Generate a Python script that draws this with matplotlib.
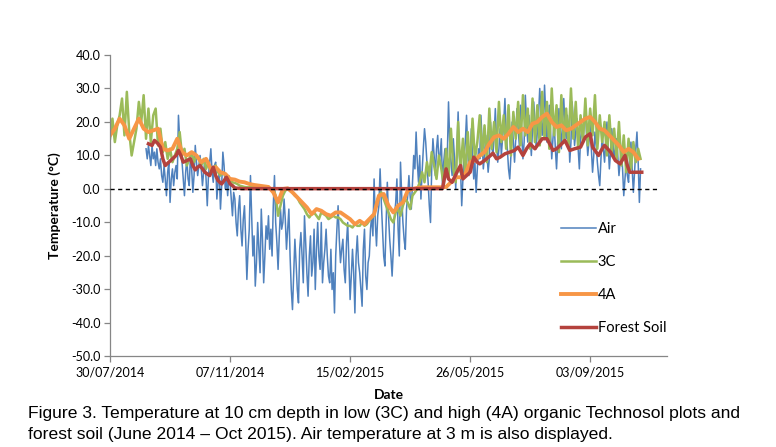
import numpy as np
import matplotlib.pyplot as plt
import matplotlib.dates as mdates

plt.rcParams['font.family'] = ['Lato', 'DejaVu Sans']

# day 0 = 30/07/2014
start = np.datetime64('2014-07-30')

# air temperature at 3 m, daily from day 30
air_first, air_step = 30, 1
air = [12, 9, 13, 10, 7, 13, 9, 11, 7, 12,          # d30
       8, 6, 9, 4, 2, 7, 3, -2, 5, 8,
       -4, 3, 6, 1, 5, 7, 3, 22, 15, 12,
       8, 3, -2, 5, 9, 3, 1, 10, 6, -1,
       4, 13, 8, 4, 7, 10, 6, 1, 5, 9,
       3, -5, 4, 8, 12, 5, 2, 7, 8, -3,             # d80
       2, 5, -6, 1, 11, 7, 0, 3, -2, 4,
       2, -3, -8, -1, -3, -10, -14, -6, -2, -12,
       -17, -9, -5, -15, -27, -18, -12, 4, -8, -20,
       -14, -29, -22, -10, -18, -25, -6, -15, -28, -20,
       -11, -15, -8, -18, -12, -20, -5, 4, -10, -16,   # d130
       -24, -14, -6, -12, -10, -3, -9, -18, -12, -6,
       -20, -30, -36, -25, -15, -22, -30, -34, -18, -13,
       -20, -28, -8, -16, -25, -32, -20, -14, -26, -22,
       -12, -30, -18, -10, -20, -24, -10, -28, -22, -18,
       -12, -20, -26, -28, -18, -30, -25, -37, -20, -12,  # d180
       -5, -15, -22, -18, -15, -24, -28, -16, -10, -22,
       -33, -26, -18, -25, -37, -20, -14, -22, -25, -30,
       -35, -18, -12, -26, -30, -22, -20, -12, -8, -14,
       3, -10, -17, -8, -5, 6, -4, -12, -20, -23,
       -10, 2, -8, -15, -20, -26, -18, -8, -4, 3,        # d230
       -12, -20, 8, -2, -10, -15, -18, -6, -2, 4,
       -2, -6, 2, 10, 6, 17, 8, 2, 10, -3,
       5, 12, 18, 14, 8, 2, -5, -10, 6, 15,
       10, 4, 12, 16, 8, 10, 15, 1, 8, 12,
       5, 10, 26, 14, 8, 4, 15, 9, 0, 12,                # d280
       23, 10, 6, -5, 3, 10, 14, 22, 12, 4,
       9, 18, 10, 3, 8, -1, 6, 12, 9, 22,
       14, 6, 10, 16, 11, 5, 9, 20, 13, 10,
       16, 24, 14, 8, 12, 18, 10, 15, 20, 27,
       17, 12, 6, 3, 10, 20, 14, 8, 15, 24,              # d330
       18, 13, 25, 16, 9, 14, 28, 20, 14, 22,
       16, 10, 18, 26, 20, 12, 17, 22, 30, 24,
       16, 20, 31, 22, 14, 19, 25, 17, 9, 15,
       20, 12, 6, 14, 24, 18, 12, 20, 27, 19,
       15, 22, 18, 8, 14, 26, 20, 13, 17, 21,            # d380
       12, 6, 15, 18, 14, 20, 25, 16, 10, 14,
       20, 12, 5, 10, 17, 13, 8, 4, 1, 9,
       16, 12, 8, 14, 20, 13, 6, 11, 18, 14,
       9, 12, 15, 10, 4, 8, 12, 6, -2, 3,
       8, 4, 2, 10, 14, 6, -1, 5, 12, 17,                # d430
       8, -4, 6]

# 3C plot, every 2 days from day 0
c3_first, c3_step = 0, 2
c3 = [15, 21, 14, 19, 22, 27, 16, 29, 17, 10,
      14, 18, 26, 20, 28, 15, 24, 14, 22, 24,
      13, 18, 11, 14, 9, 12, 8, 10, 12, 17,
      10, 12, 7, 9, 11, 8, 10, 9, 7, 9,
      6, 8, 5, 6, 7, 5, 4, 5, 4, 3.5,
      2.5, 2, 1.8, 1.5, 1, 0.8, 0.6, 0.5, 0.5, 0.8,
      0.6, 0.4, 0.3, 0.3, 0.2, 0.2, 0.2, 0.1, 0, -2,
      -8, -5, -2, -0.5, 0, 0, -1, -2, -2.5, -4,
      -5, -6, -7.5, -8.5, -7.5, -7, -8, -9, -7, -7.5,
      -8, -9, -8.5, -8, -8.5, -8.5, -9, -10, -10.5, -11,
      -11, -11.5, -10.5, -11, -11, -10, -11, -10.5, -9.5, -8.5,
      -8, -4, -2, -1, -3, -5, -7, -9, -10, -7,
      -6, -8, -5, -3, -4, -6, -2, -1, 0, 2,
      5, 2, 8, 4, 11, 7, 3, 10, 6, 1,
      12, 3, 18, 6, 2, 20, 5, 15, 4, 17,
      6, 21, 9, 14, 22, 10, 19, 8, 24, 12,
      20, 11, 26, 14, 22, 12, 25, 10, 23, 15,
      26, 13, 28, 16, 24, 12, 27, 14, 25, 13,
      29, 15, 26, 12, 30, 16, 25, 11, 28, 14,
      24, 13, 30, 15, 26, 12, 22, 14, 27, 13,
      24, 16, 28, 12, 22, 14, 20, 10, 22, 11,
      18, 9, 20, 7, 16, 5, 15, 6, 14, 8,
      12, 9]

# 4A plot, every 4 days from day 0
a4_first, a4_step = 0, 4
a4 = [16, 18, 21, 19, 15, 18, 21, 18, 17, 17.5, 18,
      12, 11.5, 12, 15, 11, 10, 11, 10, 8, 9, 6,
      6.5, 5, 4.5, 3, 2.8, 2.2, 2, 1.5, 1.2, 1, 0.8,
      0.6, -1, -4, 0, 0.2, -1, -2.5, -4, -5.5, -7.5, -6,
      -6.5, -7.5, -8, -7, -7, -8, -9, -10.5, -9.5, -10.5, -9,
      -7.5, -2, -1.5, -5, -7, -5, -4, -0.5, 0, 0.3, 0.5,
      0.5, 0.5, 0.5, 0.5, 0.6, 2, 3.5, 3.5, 4.5, 8, 8.5,
      10, 11, 13.5, 15.5, 16, 15, 16.5, 18.5, 17, 18, 17,
      19.5, 20, 21.5, 22.5, 20, 18.5, 19, 17.5, 18, 19, 20,
      21, 21.5, 20, 18, 17.5, 16, 14.5, 13, 11, 12, 11,
      9]

# forest soil (irregular days)
forest_days = [32, 35, 37, 40, 42, 44, 46, 49, 52, 55, 57, 59, 61, 64, 67, 69,
               71, 73, 75, 77, 79, 81, 83, 86, 88, 90, 93, 95, 97, 100, 102,
               104, 110, 277, 280, 282, 285, 289, 292, 294, 297, 300, 303,
               306, 308, 312, 317, 319, 322, 325, 329, 333, 337, 340, 344,
               347, 350, 354, 357, 360, 364, 367, 369, 372, 375, 379, 383,
               387, 392, 396, 400, 402, 405, 407, 410, 412, 417, 421, 425,
               429, 431, 433, 443]
forest = [13.5, 13, 14.5, 13.5, 12.5, 9, 7, 8, 9, 10, 11.5, 10, 8, 8.5, 9, 7,
          5.7, 6.5, 7, 6, 5, 4.5, 4, 6.5, 4, 2.5, 1.5, 2.5, 3.5, 1.5, 1,
          0.3, 0.1, 0.1, 6, 3, 2, 5, 7, 3, 4, 5, 9.5,
          8, 7.5, 8.5, 10, 10.7, 9, 9.5, 10.5, 11, 11.5, 12.5, 10,
          12, 13.5, 12, 13.5, 15, 15, 13, 11.5, 12, 13, 14.5, 11.5,
          12, 12.5, 15.5, 16.5, 12.5, 11, 10, 12, 13, 11, 8.5, 7.5,
          10, 7, 5, 5]


def dates_from(first, step, n):
    return start + np.arange(first, first + step * n, step).astype('timedelta64[D]')


def dates_list(days):
    return start + np.array(days).astype('timedelta64[D]')


fig = plt.figure(figsize=(7.76, 4.47), dpi=100)
ax = fig.add_axes([0.1418, 0.2025, 0.7177, 0.6745])

ax.plot(dates_from(air_first, air_step, len(air)), air, color='#4F81BD', lw=1.1, label='Air')
ax.plot(dates_from(c3_first, c3_step, len(c3)), c3, color='#9BBB59', lw=1.8, label='3C')
ax.plot(dates_from(a4_first, a4_step, len(a4)), a4, color='#F79646', lw=2.8, label='4A')
ax.plot(dates_list(forest_days), forest, color='#B4423D', lw=2.5, label='Forest Soil')
ax.axhline(0, xmin=0, xmax=0.985, color='black', lw=1, ls=(0, (3, 2.5)), zorder=5)

ax.set_xlim(start, start + np.timedelta64(464, 'D'))
ax.set_ylim(-50, 40)
ax.set_yticks(np.arange(-50, 41, 10))
ax.yaxis.set_major_formatter(plt.FormatStrFormatter('%.1f'))
ax.set_xticks(start + np.arange(0, 401, 100).astype('timedelta64[D]'))
ax.xaxis.set_major_formatter(mdates.DateFormatter('%d/%m/%Y'))

for s in ['top', 'right']:
    ax.spines[s].set_visible(False)
for s in ['left', 'bottom']:
    ax.spines[s].set_color('#868686')
    ax.spines[s].set_linewidth(0.9)
ax.tick_params(axis='both', direction='out', length=4, width=0.9, color='#868686',
               labelsize=9, labelcolor='black', pad=3)

ax.set_ylabel('Temperature (°C)', fontsize=10, fontweight='bold', labelpad=7)
ax.set_xlabel('Date', fontsize=10, fontweight='bold', labelpad=8)

ax.legend(loc='upper left', bbox_to_anchor=(0.8, 0.465), frameon=False, fontsize=10.5,
          handlelength=2.4, handletextpad=0.1, labelspacing=1.3, borderaxespad=0)

cap_font = ['Liberation Sans Narrow', 'Liberation Sans']
fig.text(0.036, 0.074, 'Figure 3. Temperature at 10 cm depth in low (3C) and high (4A) organic Technosol plots and',
         fontsize=12.6, family=cap_font, va='center')
fig.text(0.036, 0.029, 'forest soil (June 2014 \u2013 Oct 2015). Air temperature at 3 m is also displayed.',
         fontsize=12.6, family=cap_font, va='center')

fig.savefig('out.png', dpi=100)
